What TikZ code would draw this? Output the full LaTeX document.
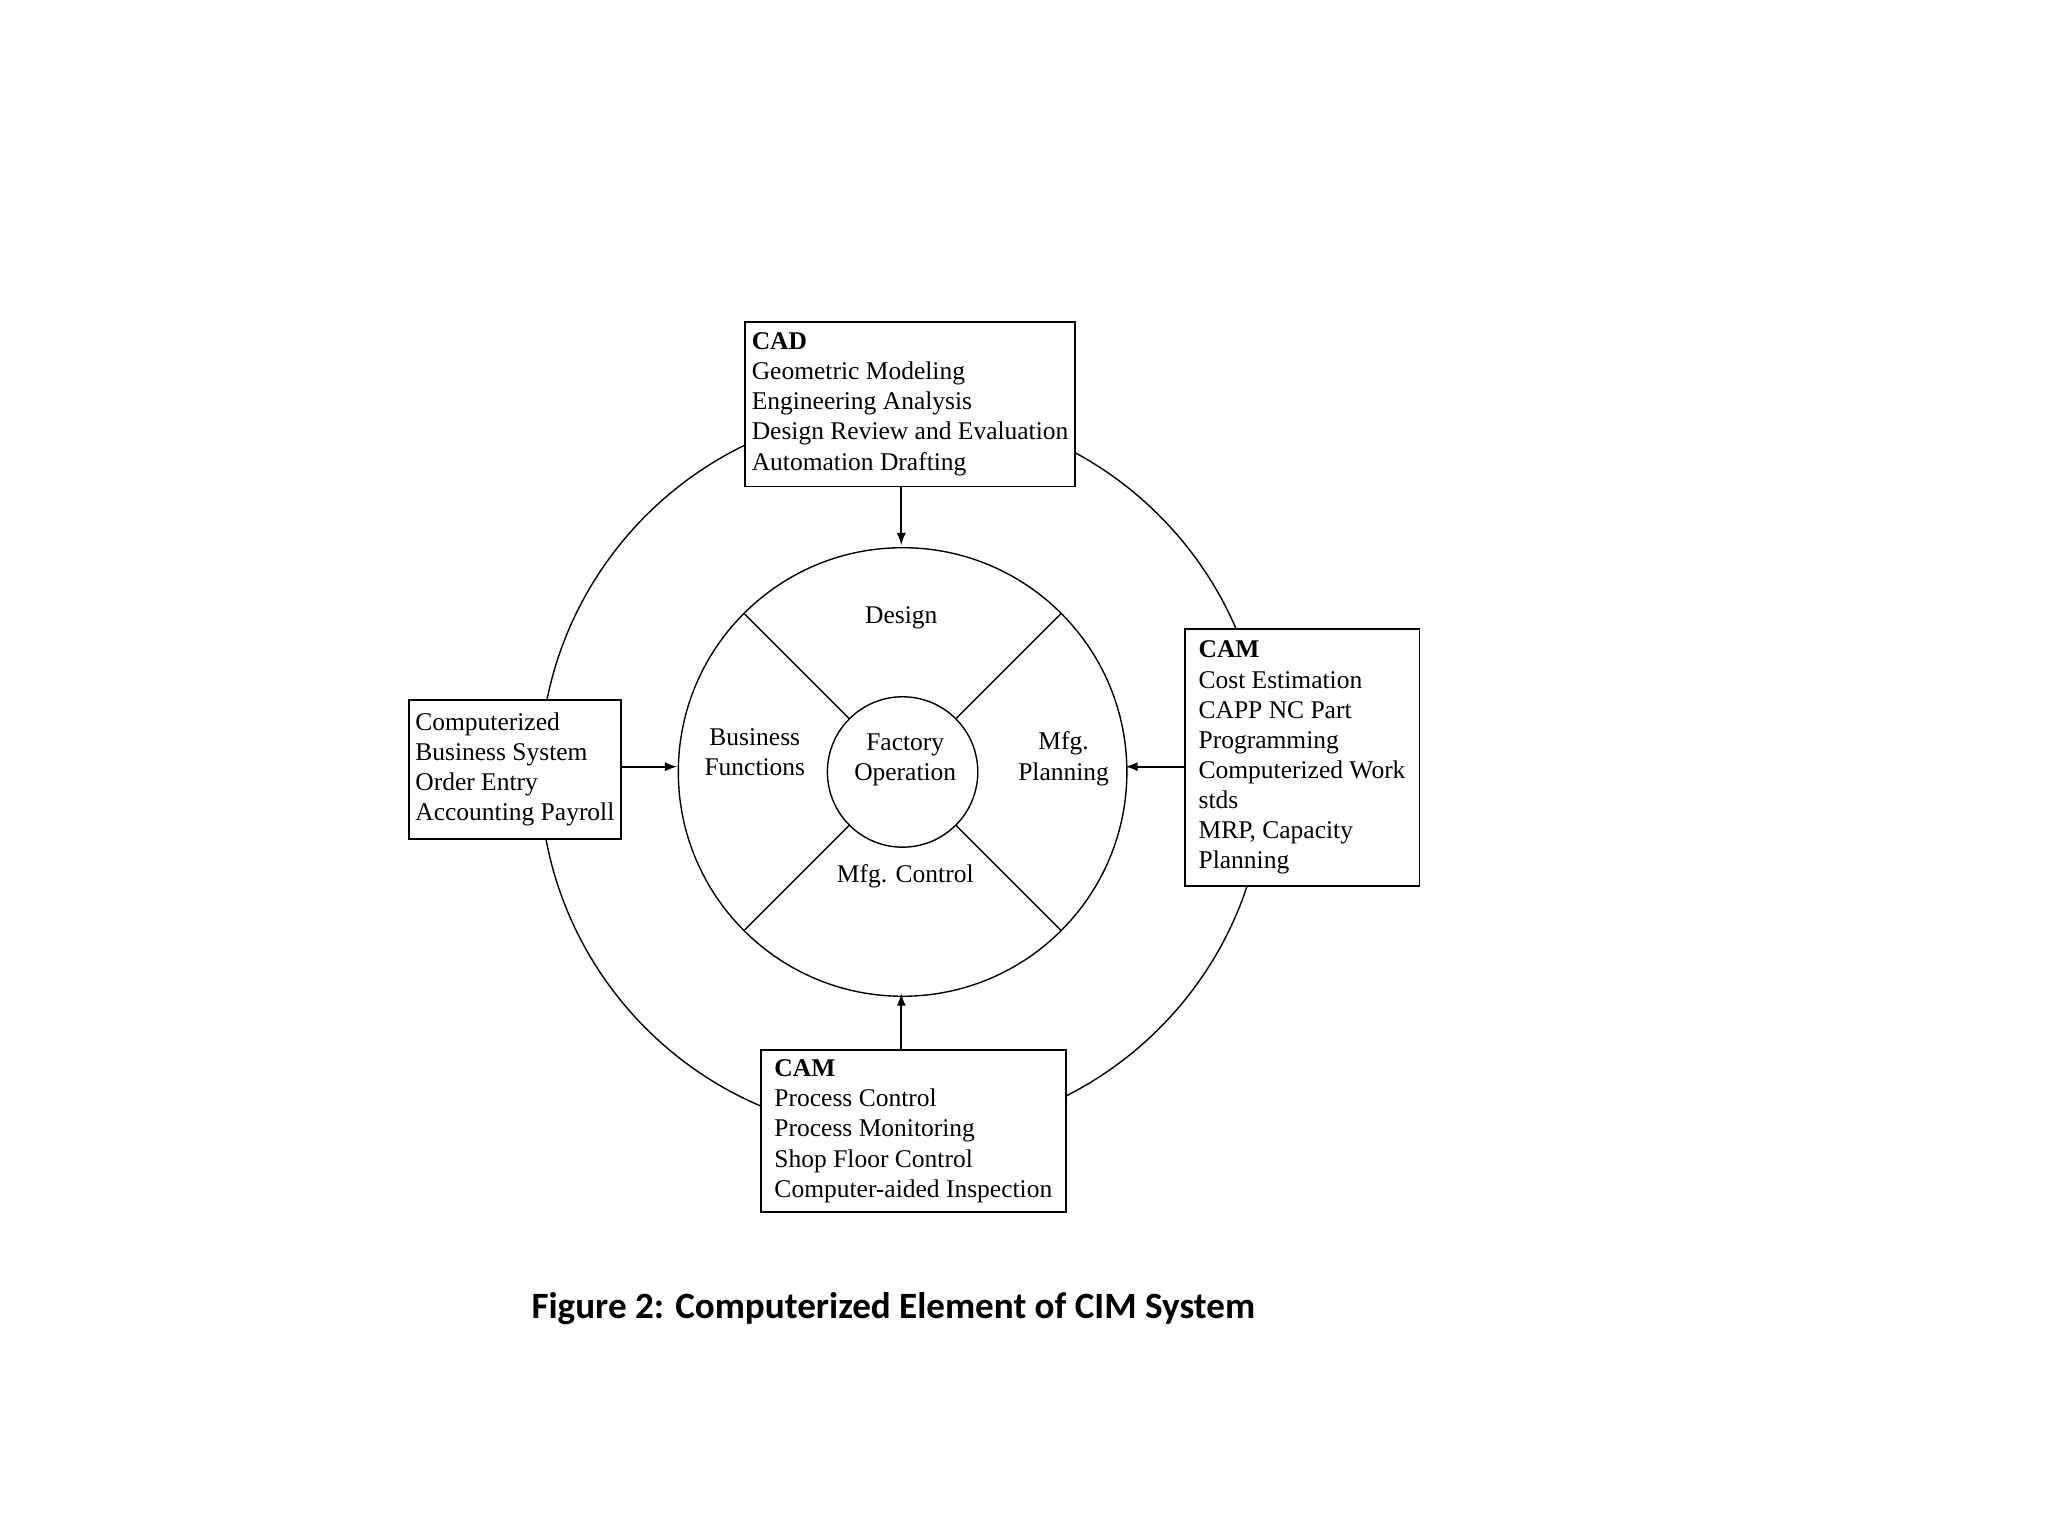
\documentclass[tikz,border=0pt]{standalone}
\usepackage{fontspec}
\usetikzlibrary{calc}
\setmainfont{Liberation Serif}
\newfontfamily\capfont{Carlito}
\begin{document}
\begin{tikzpicture}[x=0.02cm,y=-0.02cm,
  box/.style={draw,fill=white,line width=0.8pt,align=left,inner sep=1pt,anchor=north west,font=\fontsize{11}{13}\selectfont},
  lbl/.style={align=center,font=\fontsize{11}{13}\selectfont},
  arr/.style={-latex,line width=0.8pt},
  thin/.style={line width=0.6pt}]
\useasboundingbox (0,0) rectangle (1552,1164);
\coordinate (c) at (684,585);
\draw[thin] (c) circle[radius=5.5cm];
\draw[thin] (c) circle[radius=3.4cm];
\draw[thin] (c) circle[radius=1.14cm];
\foreach \a in {45,135,225,315}{\draw[thin] ($(c)+(\a:1.14cm)$) -- ($(c)+(\a:3.4cm)$);}
\node[box,minimum width=5cm,minimum height=2.5cm] (cad) at (564,243) {\hfill\textbf{CAD}\hfill\null\\Geometric Modeling\\Engineering Analysis\\Design Review and Evaluation\\Automation Drafting};
\node[box,minimum width=3.56cm,minimum height=3.9cm,anchor=north west] (camr) at (897,476) {\hfill\textbf{CAM}\hfill\null\\Cost Estimation\\CAPP NC Part\\Programming\\Computerized Work\\stds\\MRP, Capacity\\Planning};
\node[box,minimum width=3.22cm,minimum height=2.1cm] (bus) at (309,530) {Computerized\\Business System\\Order Entry\\Accounting Payroll};
\node[box,minimum width=4.62cm,minimum height=2.46cm] (camb) at (576,795) {\hfill\textbf{CAM}\hfill\null\\Process Control\\Process Monitoring\\Shop Floor Control\\Computer-aided Inspection};
\node[lbl] (des) at (683,468) {Design};
\node[lbl] (bf) at (572,570) {Business\\Functions};
\node[lbl] (fo) at (686,576) {Factory\\Operation};
\node[lbl] (mp) at (806,575) {Mfg.\\Planning};
\node[lbl] (mc) at (686,664) {Mfg. Control};
\coordinate (t) at (683,413);
\coordinate (l) at (513,581);
\coordinate (r) at (853,581);
\coordinate (b) at (683,753);
\draw[arr] (cad.south -| t) -- (t);
\draw[arr] (bus.east |- l) -- (l);
\draw[arr] (camr.west |- r) -- (r);
\draw[arr] (camb.north -| b) -- (b);
\node[font=\capfont\bfseries\fontsize{16}{18}\selectfont] (cap) at (677,992) {Figure 2: Computerized Element of CIM System};
\end{tikzpicture}
\end{document}
